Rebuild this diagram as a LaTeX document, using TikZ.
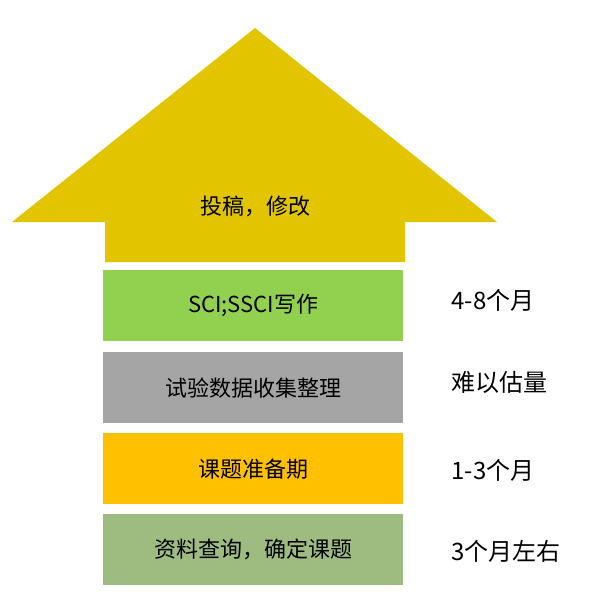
\documentclass[tikz,border=0pt]{standalone}
\usepackage{fontspec}
\setmainfont{Noto Sans CJK SC}
\definecolor{arr}{HTML}{E2C500}
\definecolor{g1}{HTML}{92D050}
\definecolor{g2}{HTML}{A5A5A5}
\definecolor{g3}{HTML}{FFC000}
\definecolor{g4}{HTML}{9EBC80}
\begin{document}
\begin{tikzpicture}[x=1pt,y=-1pt,
 stage/.style={minimum width=300pt,minimum height=71pt,inner sep=0pt,font=\fontsize{22}{26}\selectfont,anchor=north west},
 dur/.style={anchor=west,font=\fontsize{24}{28}\selectfont}]
\useasboundingbox (0,0) rectangle (610,607);
\fill[arr] (255,28) -- (497,222) -- (405,222) -- (405,262) -- (105,262) -- (105,222) -- (12,222) -- cycle;
\node[font=\fontsize{22}{26}\selectfont] (top) at (255,206) {投稿，修改};
\node[stage,fill=g1] (s1) at (103,270) {SCI;SSCI写作};
\node[stage,fill=g2] (s2) at (103,352) {试验数据收集整理};
\node[stage,fill=g3] (s3) at (103,433) {课题准备期};
\node[stage,fill=g4] (s4) at (103,514) {资料查询，确定课题};
\node[dur] (d1) at (448,300) {4-8个月};
\node[dur] (d2) at (448,382) {难以估量};
\node[dur] (d3) at (448,470) {1-3个月};
\node[dur] (d4) at (448,551) {3个月左右};
\end{tikzpicture}
\end{document}
